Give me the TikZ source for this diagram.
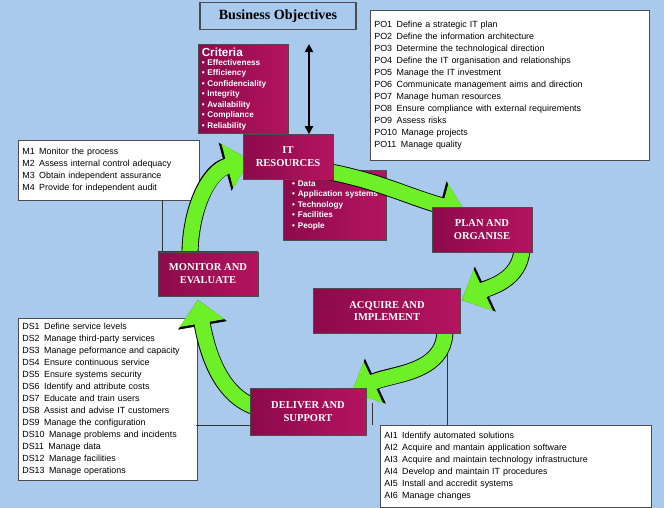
\documentclass[tikz,border=0pt]{standalone}
\usepackage{fontspec}
\setmainfont{Liberation Sans}
\newfontfamily\titlefont{Liberation Serif}
\usetikzlibrary{arrows.meta,positioning,calc}
\definecolor{bgblue}{RGB}{170,202,237}
\definecolor{wine}{RGB}{140,10,75}
\definecolor{winelight}{RGB}{180,20,95}
\definecolor{arrowgreen}{RGB}{110,240,40}
\tikzset{
  proc/.style={draw=black!70, left color=wine, right color=winelight, text=white,
    font=\titlefont\bfseries\small, align=center, inner sep=2pt},
  list/.style={draw=black!70, fill=white, align=left, font=\fontsize{7.6}{10.3}\selectfont,
    anchor=north west, inner sep=3.5pt},
  wlist/.style={draw=black!70, left color=wine, right color=winelight, text=white,
    align=left, font=\bfseries\fontsize{7}{8.9}\selectfont, anchor=north west, inner sep=3pt},
  cycle/.style={line width=13pt, arrowgreen, -{Triangle[length=20pt,width=38pt]},
    preaction={draw=black, line width=14.5pt, -{Triangle[length=22pt,width=41pt]}}},
  link/.style={draw=black!80, thin}
}
\begin{document}
\begin{tikzpicture}[x=0.03cm,y=-0.03cm]
\fill[bgblue] (0,0) rectangle (664,508);

% boxes
\node[draw=black!70, fill=bgblue, line width=1pt, minimum width=156*0.03cm, minimum height=27*0.03cm,
  font=\titlefont\bfseries\large] (bo) at (278,16) {Business Objectives};
\node[wlist, text width=83*0.03cm, minimum height=89*0.03cm] (crit) at (198,44)
  {{\normalsize Criteria}\\[-1pt] \textbullet\ Effectiveness\\ \textbullet\ Efficiency\\ \textbullet\ Confidenciality\\
   \textbullet\ Integrity\\ \textbullet\ Availability\\ \textbullet\ Compliance\\ \textbullet\ Reliability};
\node[wlist, text width=96*0.03cm, minimum height=70*0.03cm] (res) at (283,170)
  {\\[-4pt]\ \ \textbullet\ Data\\ \ \ \textbullet\ Application systems\\ \ \ \textbullet\ Technology\\
   \ \ \textbullet\ Facilities\\ \ \ \textbullet\ People};

\node[list, text width=271*0.03cm, minimum height=150*0.03cm] (po) at (370,10)
  {PO1\enspace Define a strategic IT plan\\ PO2\enspace Define the information architecture\\
   PO3\enspace Determine the technological direction\\
   PO4\enspace Define the IT organisation and relationships\\
   PO5\enspace Manage the IT investment\\ PO6\enspace Communicate management aims and direction\\
   PO7\enspace Manage human resources\\ PO8\enspace Ensure compliance with external requirements\\
   PO9\enspace Assess risks\\ PO10\enspace Manage projects\\ PO11\enspace Manage quality};
\node[list, text width=173*0.03cm, minimum height=60*0.03cm] (mo) at (18,140)
  {M1\enspace Monitor the process\\ M2\enspace Assess internal control adequacy\\
   M3\enspace Obtain independent assurance\\ M4\enspace Provide for independent audit};
\node[list, text width=171*0.03cm, minimum height=162*0.03cm] (ds) at (18,318)
  {DS1\enspace Define service levels\\ DS2\enspace Manage third-party services\\
   DS3\enspace Manage peformance and capacity\\ DS4\enspace Ensure continuous service\\
   DS5\enspace Ensure systems security\\ DS6\enspace Identify and attribute costs\\
   DS7\enspace Educate and train users\\ DS8\enspace Assist and advise IT customers\\
   DS9\enspace Manage the configuration\\ DS10\enspace Manage problems and incidents\\
   DS11\enspace Manage data\\ DS12\enspace Manage facilities\\ DS13\enspace Manage operations};
\node[list, text width=263*0.03cm, minimum height=82*0.03cm] (ai) at (380,425)
  {AI1\enspace Identify automated solutions\\ AI2\enspace Acquire and mantain application software\\
   AI3\enspace Acquire and maintain technology infrastructure\\
   AI4\enspace Develop and maintain IT procedures\\ AI5\enspace Install and accredit systems\\
   AI6\enspace Manage changes};

% links
\draw[link] (162,200) -- (162,252);
\draw[link] (196,425) -- (250,425);
\draw[link] (447,333) -- (447,425);
\draw[link] (372,403) -- (372,425);

% cycle arrows
\draw[cycle] (320,170) to[out=-10,in=165] (465,212);
\draw[cycle] (522,250) to[out=-95,in=25] (462,300);
\draw[cycle] (445,330) to[out=-90,in=25] (352,392);
\draw[cycle] (275,410) to[out=180,in=-80] (198,300);
\draw[cycle] (190,255) to[out=90,in=-165] (250,160);

\node[proc, minimum width=100*0.03cm, minimum height=45*0.03cm] (pl) at (482,230) {PLAN AND\\ORGANISE};
\node[proc, minimum width=147*0.03cm, minimum height=45*0.03cm] (aq) at (387,311) {ACQUIRE AND\\IMPLEMENT};
\node[proc, minimum width=116*0.03cm, minimum height=47*0.03cm] (dl) at (308,412) {DELIVER AND\\SUPPORT};
\node[proc, minimum width=100*0.03cm, minimum height=44*0.03cm] (mn) at (208,274) {MONITOR AND\\EVALUATE};
\node[proc, minimum width=90*0.03cm, minimum height=45*0.03cm] (it) at (288,157) {IT\\RESOURCES};

\coordinate (top) at (309,44);
\draw[{Triangle[length=7pt,width=7pt]}-{Triangle[length=7pt,width=7pt]}, line width=1.5pt] (top) -- (top |- it.north);
\end{tikzpicture}
\end{document}
